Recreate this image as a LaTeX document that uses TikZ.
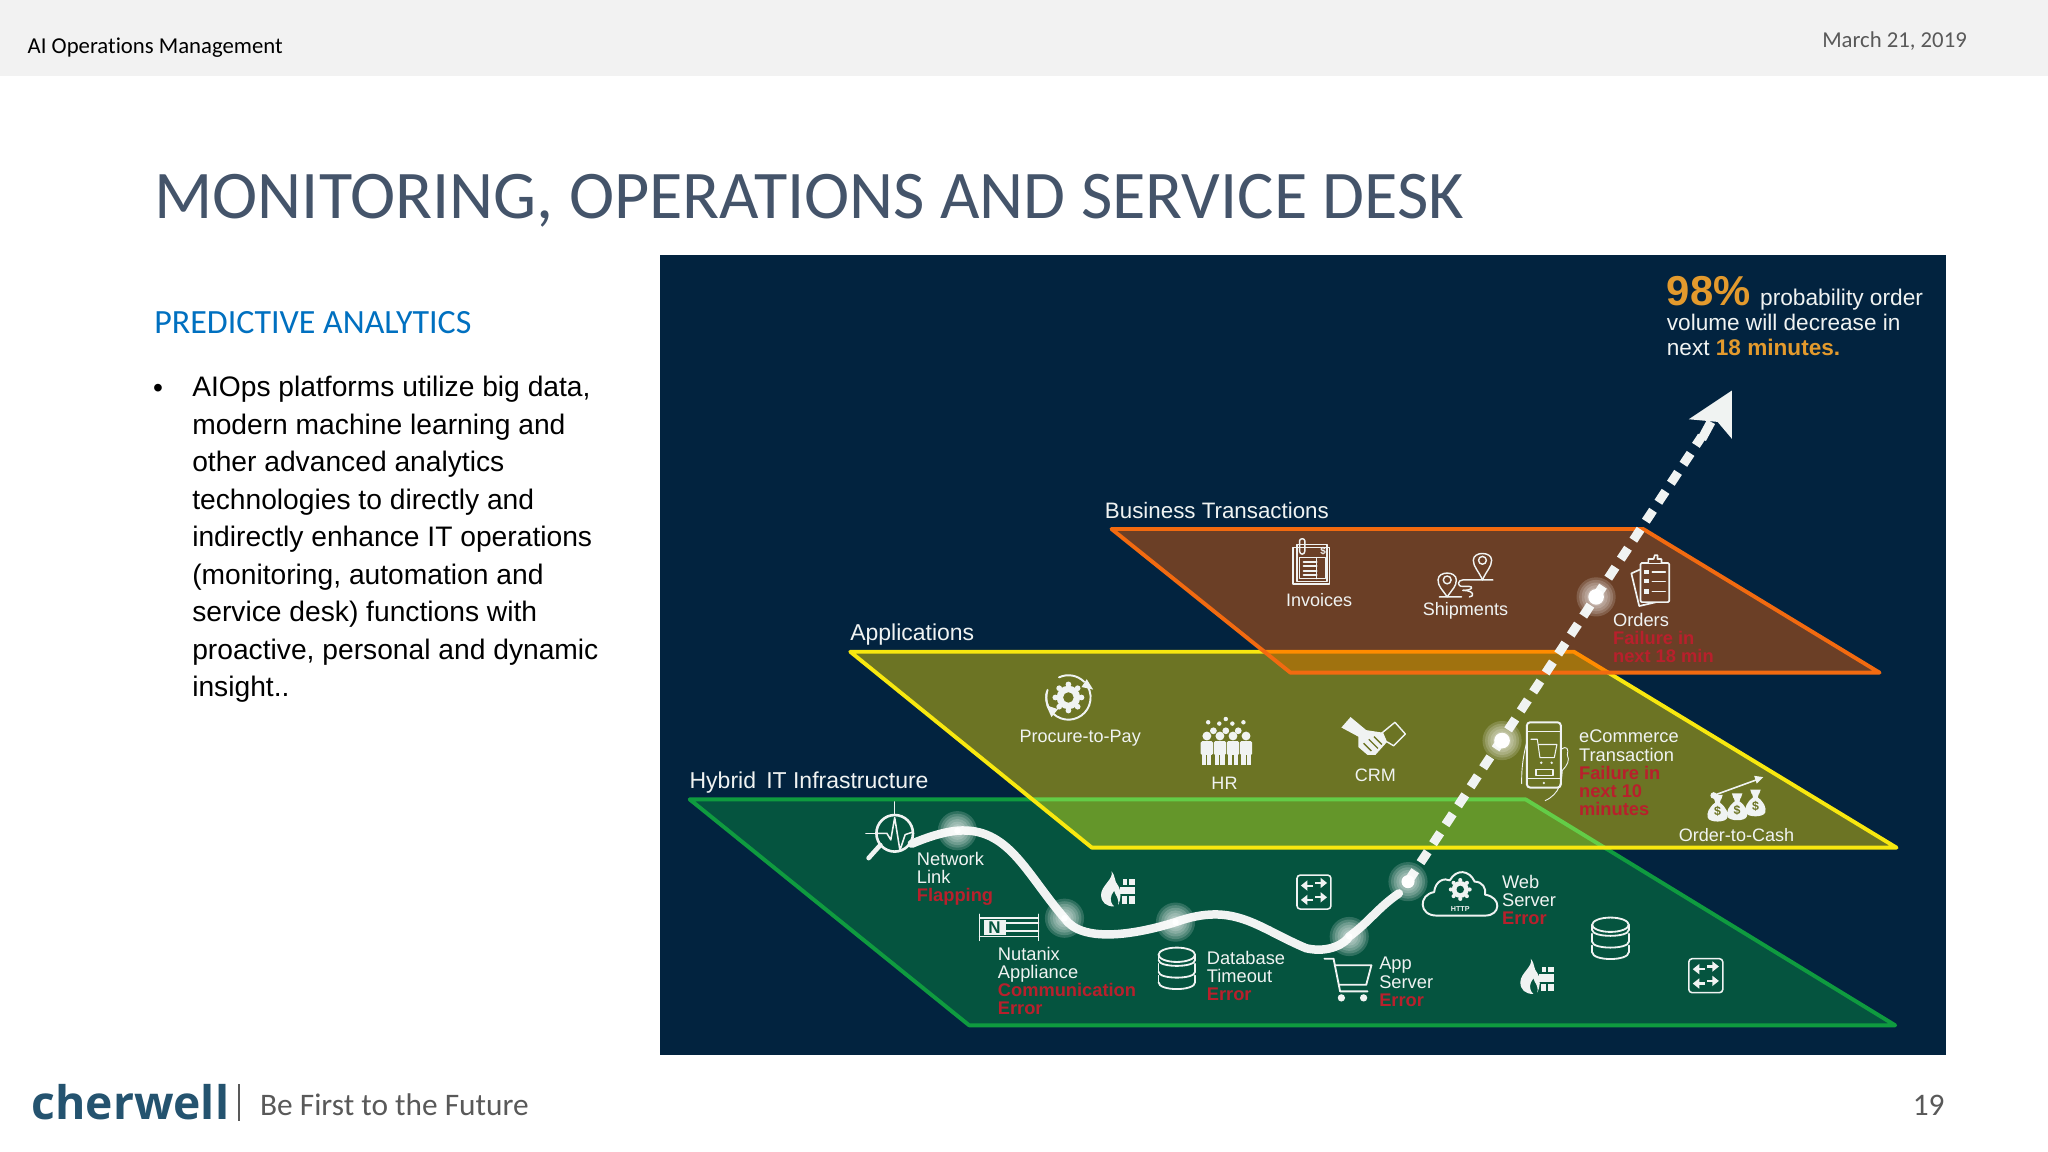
\documentclass[tikz,border=0pt]{standalone}
\usepackage{fontspec}
\setmainfont{Liberation Sans}
\newfontfamily\calfont[Ligatures=NoCommon]{Carlito}
\newfontfamily\logofont{Open Sans}
\usetikzlibrary{calc}
\definecolor{panelbg}{HTML}{02233F}
\definecolor{busfill}{HTML}{6B3F26}
\definecolor{busapp}{HTML}{A0720F}
\definecolor{appfill}{HTML}{6C7424}
\definecolor{apphyb}{HTML}{64962A}
\definecolor{hybfill}{HTML}{05543F}
\definecolor{busline}{HTML}{F26A10}
\definecolor{appline}{HTML}{F8E80F}
\definecolor{hybline}{HTML}{0F9B3F}
\definecolor{iconw}{HTML}{F0F3F2}
\definecolor{alertred}{HTML}{B8202C}
\definecolor{hiorange}{HTML}{E39A2D}
\definecolor{titlecol}{HTML}{44546A}
\definecolor{bluehead}{HTML}{0070C0}
\definecolor{logocol}{HTML}{24536F}
\definecolor{greytext}{HTML}{595959}
\newcommand{\fsz}[1]{\fontsize{#1}{#1}\selectfont}
\newcommand{\lblfont}{\fontsize{14}{13.9}\selectfont}
\newcommand{\redt}[1]{{\color{alertred}\bfseries #1}}
\newcommand{\glowat}[2]{%
  \foreach \rr in {5,7,...,15}{\fill[white,opacity=.17] (#1) circle (\rr);}
  \fill[white] (#1) circle (#2);}
\tikzset{
  x=1pt,y=-1pt,
  txt/.style={inner sep=0pt,outer sep=0pt,text=iconw,align=left,anchor=north west,font=\lblfont},
  ctxt/.style={inner sep=0pt,outer sep=0pt,text=iconw,font=\fsz{13.8}},
  layerlabel/.style={inner sep=0pt,outer sep=0pt,text=iconw,anchor=base west,font=\fsz{17.6}},
  icon/.style={draw=iconw,line width=1.1pt,line join=round,line cap=round,fill=none},
  edge line/.style={line width=3pt,line join=round,line cap=round},
  pics/gearicon/.style={code={
    \foreach \a in {0,45,...,315}{\fill[iconw] ($(0,0)+(\a:10)$) circle (2.2);}
    \fill[iconw] (0,0) circle (9);
    \fill[#1] (0,0) circle (4);
  }},
  pics/fireicon/.style={code={
    \fill[iconw] (-5,-14) .. controls (-3,-8) and (-13,-3) .. (-13,4) .. controls (-13,10) and (-9,13) .. (-3,13)
       .. controls (-7,9) and (-6,5) .. (-3,1) .. controls (-2,5) and (1,6) .. (0,12) .. controls (2,8) and (3,2) .. (0,-3)
       .. controls (-3,-6) and (-2,-11) .. (-5,-14) -- cycle;
    \fill[iconw] (3.5,-8) rectangle (7,-3.5);
    \fill[iconw] (8,-8) rectangle (13,-3.5);
    \fill[iconw] (1.5,-2) rectangle (13,3.5);
    \fill[iconw] (3,5) rectangle (7,11);
    \fill[iconw] (8,5) rectangle (13,11);
  }},
  pics/switchicon/.style={code={
    \draw[icon,line width=1.2pt,rounded corners=2.5pt] (-13,-13) rectangle (13,13);
    \draw[iconw,line width=1.6pt] (-1,-5) -- (-6,-5);  \fill[iconw] (-10,-5) -- (-5,-9) -- (-5,-1) -- cycle;
    \draw[iconw,line width=1.6pt] (1,-7) -- (6,-7);    \fill[iconw] (10,-7) -- (5,-11) -- (5,-3) -- cycle;
    \draw[iconw,line width=1.6pt] (-1,6) -- (-6,6);    \fill[iconw] (-10,6) -- (-5,2) -- (-5,10) -- cycle;
    \draw[iconw,line width=1.6pt] (1,4) -- (6,4);      \fill[iconw] (10,4) -- (5,0) -- (5,8) -- cycle;
  }},
  pics/dbicon/.style={code={
    \draw[icon,line width=1.4pt] (0,-11) ellipse (14 and 5.5);
    \draw[icon,line width=1.4pt] (-14,-11) -- (-14,-7) (14,-11) -- (14,-7);
    \draw[icon,line width=1.4pt] (-14,-7) .. controls (-14,-1) and (14,-1) .. (14,-7);
    \draw[icon,line width=1.4pt] (-14,-4) -- (-14,2) (14,-4) -- (14,2);
    \draw[icon,line width=1.4pt] (-14,2) .. controls (-14,8) and (14,8) .. (14,2);
    \draw[icon,line width=1.4pt] (-14,5) -- (-14,10) (14,5) -- (14,10);
    \draw[icon,line width=1.4pt] (-14,10) .. controls (-14,17) and (14,17) .. (14,10);
  }},
  pics/personicon/.style={code={
    \fill[iconw] (0,-8.5) circle (3.4);
    \fill[iconw,rounded corners=1pt] (-4.7,-4.5) rectangle (4.7,6);
    \fill[iconw] (-3.5,5) rectangle (-.4,14);
    \fill[iconw] (.4,5) rectangle (3.5,14);
  }},
  pics/bagicon/.style={code={
    \fill[iconw] (-2.8,-8) -- (2.8,-8) -- (1.8,-4.5) .. controls (6.5,-1) and (8.6,3.5) .. (7.5,7)
      .. controls (6.4,11) and (-6.4,11) .. (-7.5,7) .. controls (-8.6,3.5) and (-6.5,-1) .. (-1.8,-4.5) -- cycle;
    \fill[iconw] (-4,-10.5) -- (4,-10.5) -- (2.8,-7) -- (-2.8,-7) -- cycle;
    \node[inner sep=0pt,text=appfill,font=\bfseries\fsz{9.5}] (#1) at (0,2.5) {\$};
  }},
}
\begin{document}
\begin{tikzpicture}
\useasboundingbox (0,0) rectangle (1568,882);
\fill[white] (0,0) rectangle (1568,882);
% header
\fill[black!5] (0,0) rectangle (1568,58);
\node[inner sep=0pt,anchor=base west,font=\calfont\fsz{17.4},text=black] (hdr) at (21,41) {AI Operations Management};
\node[inner sep=0pt,anchor=base east,font=\calfont\fsz{17.4},text=greytext] (date) at (1506,36) {March 21, 2019};
\node[inner sep=0pt,anchor=base west,font=\calfont\fsz{52.2},text=titlecol] (title) at (118,167) {MONITORING, OPERATIONS AND SERVICE DESK};
\node[inner sep=0pt,anchor=base west,font=\calfont\fsz{26},text=bluehead] (sub) at (118,255.5) {PREDICTIVE ANALYTICS};
\node[inner sep=0pt,anchor=base west,font=\fsz{21.6},text=black] (bullet) at (117,304) {•};
\node[inner sep=0pt,anchor=north west,align=left,font=\fontsize{21.6}{28.7}\selectfont,text=black] (body) at (147,288) {AIOps platforms utilize big data,\\modern machine learning and\\other advanced analytics\\technologies to directly and\\indirectly enhance IT operations\\(monitoring, automation and\\service desk) functions with\\proactive, personal and dynamic\\insight..};
% footer
\node[inner sep=0pt,anchor=base west,font=\logofont\bfseries\fsz{35.4},text=logocol] (logo) at (24,857) {cherwell};
\coordinate (bartop) at (183,830); \coordinate (barbot) at (183,858);
\draw[greytext,line width=1pt] (bartop) -- (barbot);
\node[inner sep=0pt,anchor=base west,font=\calfont\fsz{24},text=greytext] (tag) at (199,854) {Be First to the Future};
\node[inner sep=0pt,anchor=base east,font=\calfont\fsz{24},text=greytext] (page) at (1489,854) {19};
% panel
\fill[panelbg] (505,195) rectangle (1490,808);
% layer corners
\coordinate (hTL) at (528,612); \coordinate (hTR) at (1168,612); \coordinate (hBR) at (1451,785); \coordinate (hBL) at (742,785);
\coordinate (aTL) at (651,499); \coordinate (aTR) at (1205,499); \coordinate (aBR) at (1452,649); \coordinate (aBL) at (836,649);
\coordinate (bTL) at (851,405); \coordinate (bTR) at (1258,405); \coordinate (bBR) at (1439,515); \coordinate (bBL) at (988,515);
\newcommand{\hybpath}{(hTL) -- (hTR) -- (hBR) -- (hBL) -- cycle}
\newcommand{\apppath}{(aTL) -- (aTR) -- (aBR) -- (aBL) -- cycle}
\newcommand{\buspath}{(bTL) -- (bTR) -- (bBR) -- (bBL) -- cycle}
% hybrid
\fill[hybfill] \hybpath;
\draw[hybline,edge line] \hybpath;
% applications
\fill[appfill] \apppath;
\begin{scope}
  \clip \apppath;
  \fill[apphyb] \hybpath;
  \draw[color=apphyb!60!green!80!white,edge line] \hybpath;
\end{scope}
\draw[appline,edge line] \apppath;
% business
\fill[busfill] \buspath;
\begin{scope}
  \clip \buspath;
  \fill[busapp] \apppath;
  \draw[color=orange!90!yellow,edge line] \apppath;
\end{scope}
\draw[busline,edge line] \buspath;
% layer labels
\node[layerlabel,font=\fsz{17.1}] (busl) at (846,397) {Business Transactions};
\node[layerlabel] (appl) at (651,490.5) {Applications};
\node[layerlabel] (hybl) at (528,603.5) {Hybrid\, IT Infrastructure};
% top callout
\node[inner sep=0pt,anchor=base west,text=iconw,font=\fsz{17.4}] (call1) at (1276,234) {{\color{hiorange}\bfseries\fsz{32}98\%}\kern2.5pt{} probability order};
\node[inner sep=0pt,anchor=base west,text=iconw,font=\fsz{17.3}] (call2) at (1276,253) {volume will decrease in};
\node[inner sep=0pt,anchor=base west,text=iconw,font=\fsz{17.3}] (call3) at (1276,272) {next {\color{hiorange}\bfseries 18 minutes.}};
% invoices icon
\begin{scope}[shift={(1004,430)}]
  \draw[icon] (-11,-13) rectangle (12,15);
  \draw[icon] (-14,-11) -- (-14,17) -- (14,17) -- (14,-11) -- cycle;
  \draw[icon] (-9,-16) .. controls (-9,-18) and (-5,-18) .. (-5,-16) -- (-5,-8) .. controls (-5,-5) and (-9,-5) .. (-9,-8) -- cycle;
  \node[inner sep=0pt,text=iconw,font=\bfseries\fsz{7.5}] (invd) at (9,-8) {\$};
  \draw[icon] (-9,-3) rectangle (11,13);
  \draw[icon,line width=1.5pt] (-6,0) -- (4,0) (-6,3.5) -- (4,3.5) (-6,7) -- (4,7) (-6,10.5) -- (4,10.5);
  \draw[icon] (4,-3) -- (4,13);
\end{scope}
\node[ctxt] (invoices) at (1010,459.5) {Invoices};
% shipments icon
\begin{scope}[shift={(1122,445)}]
  \draw[icon] (-20,12) -- (-3,12) (-2,7) .. controls (7,7) and (7,12) .. (3,12);
  \draw[icon] (-14,12) .. controls (-18,6) and (-21,4) .. (-21,-1) .. controls (-21,-8) and (-7,-8) .. (-7,-1) .. controls (-7,4) and (-10,6) .. (-14,12);
  \draw[icon] (-14,-1) circle (3);
  \draw[icon] (2,-1) -- (21,-1) (-2,-1) -- (2,-1) (-2,-1) .. controls (-6,-1) and (-7,4) .. (-2,4) -- (3,4) .. controls (6,4) and (6,7) .. (-2,7);
  \draw[icon] (13,-1) .. controls (10,-8) and (6,-11) .. (6,-16) .. controls (6,-23) and (20,-23) .. (20,-16) .. controls (20,-11) and (16,-8) .. (13,-1);
  \draw[icon] (13,-16) circle (3);
\end{scope}
\node[ctxt] (shipments) at (1122,468) {Shipments};
% orders icon
\begin{scope}[shift={(1264,444)}]
  \draw[icon,line width=1.3pt] (-6,-9) -- (-15,-5) -- (-9,20) -- (4,17);
  \draw[icon,line width=1.3pt,fill=busfill,rounded corners=1pt] (-8,-13) rectangle (14,17);
  \draw[icon,line width=1.3pt,fill=busfill] (-2,-13) -- (-2,-16) -- (2,-16) -- (3,-19) -- (5,-19) -- (5,-16) -- (8,-16) -- (8,-13);
  \foreach \yy in {-6,1,9}{
    \fill[iconw] (-5,\yy-1.7) rectangle (-1.5,\yy+1.7);
    \draw[icon] (1,\yy) -- (11,\yy);
  }
\end{scope}
\node[txt] (orders) at (1235,469.5) {Orders\\\redt{Failure in}\\\redt{next 18 min}};
% procure icon
\pic at (818,534) {gearicon=appfill};
\begin{scope}[shift={(818,534)}]
  \draw[icon,line width=1.5pt] (200:17) arc (200:20:17) ;
  \draw[icon,line width=1.5pt] (20:17) arc (20:-30:17);
  \draw[icon,line width=1.5pt] (135:17) arc (135:195:17);
  \draw[icon,line width=1.5pt] (245:17) arc (245:315:17);
  \fill[iconw] (14,-14) -- (19,-6) -- (10,-8) -- cycle;
  \fill[iconw] (-13,15) -- (-17,6) -- (-8,9) -- cycle;
\end{scope}
\node[ctxt] (procure) at (827,565.5) {Procure-to-Pay};
% HR
\foreach \pp/\qq in {929/559.5,938.5/559.5,948/559.5}{\fill[iconw] (\pp,\qq) circle (2.6);}
\foreach \pp/\qq in {933.5/554,943.5/554,938.5/550.5,925/553,952/553}{\fill[iconw] (\pp,\qq) circle (1.7);}
\pic at (924,572) {personicon};
\pic at (934,572) {personicon};
\pic at (944,572) {personicon};
\pic at (954,572) {personicon};
\node[ctxt] (hr) at (937.5,599.5) {HR};
% CRM handshake
\begin{scope}[shift={(1050,565)}]
  \fill[iconw] (-23,-8) -- (-16,-16) -- (-4,-6) -- (9,-4) -- (12,3) -- (3,13) -- (-3,13) -- (-10,7) -- (-10,-1) -- cycle;
  \draw[icon] (7,-3) -- (18,-12) -- (26,-3) -- (17,6) -- (12,3);
  \draw[icon] (7,-3) -- (0,-3);
  \draw[appfill,line width=1pt] (-6,4) -- (0,10) (-2,1) -- (5,8) (2,-1) -- (8,5);
\end{scope}
\node[ctxt] (crm) at (1053,593.5) {CRM};
% phone
\begin{scope}[shift={(1182,578)}]
  \draw[icon,line width=1.5pt,rounded corners=2.5pt] (-13,-25) rectangle (13,25);
  \draw[icon,line width=.8pt] (-13,-18) -- (13,-18) (-13,18) -- (13,18);
  \draw[icon,line width=.8pt] (-10,-12) -- (-5,-12) -- (-3,2) -- (8,2) -- (10,-8) -- (-4,-8);
  \fill[iconw] (-2,6) circle (1); \fill[iconw] (6,6) circle (1);
  \draw[icon,line width=.8pt] (-6,11) rectangle (7,16);
  \fill[iconw] (0,21.5) circle (1);
  \draw[icon,line width=.7pt] (13,-4) .. controls (18,-8) and (19,-4) .. (18,0) .. controls (20,4) and (18,8) .. (14,12) .. controls (14,20) and (12,30) .. (1,35);
  \draw[icon,line width=.7pt] (-13,-10) .. controls (-17,5) and (-17,15) .. (-17,22);
\end{scope}
\node[txt] (ecom) at (1209,559) {eCommerce\\Transaction\\\redt{Failure in}\\\redt{next 10}\\\redt{minutes}};
% money bags
\begin{scope}[shift={(1330,612)}]
  \draw[icon,line width=1.2pt] (-18,-3) -- (15,-15);
  \fill[iconw] (-18,-3) circle (2.5);
  \fill[iconw] (20,-17) -- (13,-18) -- (15,-12) -- cycle;
\end{scope}
\pic at (1315,619) {bagicon=oc1};
\pic at (1330,618) {bagicon=oc2};
\pic at (1344,615) {bagicon=oc3};
\node[ctxt] (o2c) at (1329.5,639) {Order-to-Cash};
% network icon
\begin{scope}[shift={(685,638)}]
  \draw[icon,line width=2pt] (0,0) circle (14);
  \draw[icon,line width=1.2pt] (-22,0) -- (-12,0) (0,-24) -- (0,-14);
  \draw[icon,line width=1.2pt] (-14,0) -- (-6,0) -- (-3,5) -- (0,-12) -- (4,13) -- (8,1) -- (14,-1);
  \draw[icon,line width=3.5pt] (-11,9) -- (-20,19);
\end{scope}
\node[txt] (netl) at (702,652.5) {Network\\Link\\\redt{Flapping}};
% nutanix
\begin{scope}[shift={(772,710)}]
  \draw[icon,line width=1.2pt] (-22,-10) -- (-22,10) (23,-10) -- (23,10) (-22,-7) -- (23,-7) (-22,7) -- (23,7);
  \draw[icon,line width=1.5pt] (-2,-3) -- (23,-3) (-2,3) -- (23,3);
  \fill[iconw] (-19,-6) rectangle (-2,6);
  \node[inner sep=0pt,text=hybfill,font=\bfseries\fsz{13}] (nutn) at (-10.5,0) {N};
\end{scope}
\node[txt] (nutl) at (764,725) {Nutanix\\Appliance\\\redt{Communication}\\\redt{Error}};
% firewalls, switches, dbs
\pic at (856,681) {fireicon};
\pic at (1177,748) {fireicon};
\pic at (1006,683) {switchicon};
\pic at (1306,747) {switchicon};
\pic at (901,742) {dbicon};
\pic at (1233,719) {dbicon};
\node[txt] (dbl) at (924,728) {Database\\Timeout\\\redt{Error}};
% cart
\begin{scope}[shift={(1033,750)}]
  \draw[icon,line width=1.4pt] (-19,-16) -- (-12,-16) -- (-7,9) -- (14,9);
  \draw[icon,line width=1.4pt] (-11,-11) -- (17,-11) -- (13,4) -- (-8,4);
  \fill[iconw] (-6,14) circle (2.8);
  \fill[iconw] (11,14) circle (2.8);
\end{scope}
\node[txt] (appsrv) at (1056,733) {App\\Server\\\redt{Error}};
% cloud
\begin{scope}[shift={(1118,685)}]
  \draw[icon,line width=1.5pt] (-18,16) .. controls (-32,16) and (-32,0) .. (-20,-2)
     .. controls (-19,-11) and (-12,-13) .. (-8,-11) .. controls (-3,-20) and (7,-19) .. (11,-10)
     .. controls (17,-10) and (20,-5) .. (19,0) .. controls (32,2) and (31,16) .. (19,16) -- cycle;
  \node[inner sep=0pt,text=iconw,font=\bfseries\fsz{5.5}] (httpl) at (0,11) {HTTP};
\end{scope}
\pic[scale=.72] at (1118,681) {gearicon=hybfill};
\node[txt] (websrv) at (1150,670) {Web\\Server\\\redt{Error}};
% journey line
\coordinate (n0) at (698,646);
\coordinate (g1) at (733,636);
\coordinate (g2) at (815,703);
\coordinate (g3) at (900,706);
\coordinate (g4) at (1033,717);
\coordinate (g5) at (1078,675);
\coordinate (g6) at (1150,567);
\coordinate (g7) at (1222,457);
\coordinate (shaftend) at (1310,323);
\draw[iconw,line width=6.5pt,line cap=round] (n0) .. controls (710,641) and (722,637) .. (g1)
  .. controls (772,633) and (785,668) .. (g2)
  .. controls (828,722) and (868,716) .. (g3)
  .. controls (945,690) and (962,710) .. (1000,726)
  .. controls (1018,730) and (1030,722) .. (g4)
  .. controls (1048,706) and (1055,695) .. (1071,684);
\draw[iconw,line width=7pt,dash pattern=on 10pt off 7.4pt] (g5) -- (1303,334);
\fill[iconw] (1293,321) -- (1326,299) -- (1326,336) -- (1315,323) -- cycle;
\draw[iconw,line width=7pt] (1303,336) -- (shaftend);
\glowat{g1}{2.5}\glowat{g2}{2.5}\glowat{g3}{2.5}\glowat{g4}{2.5}
\glowat{g5}{5}\glowat{g6}{6}\glowat{g7}{6}
\end{tikzpicture}
\end{document}
